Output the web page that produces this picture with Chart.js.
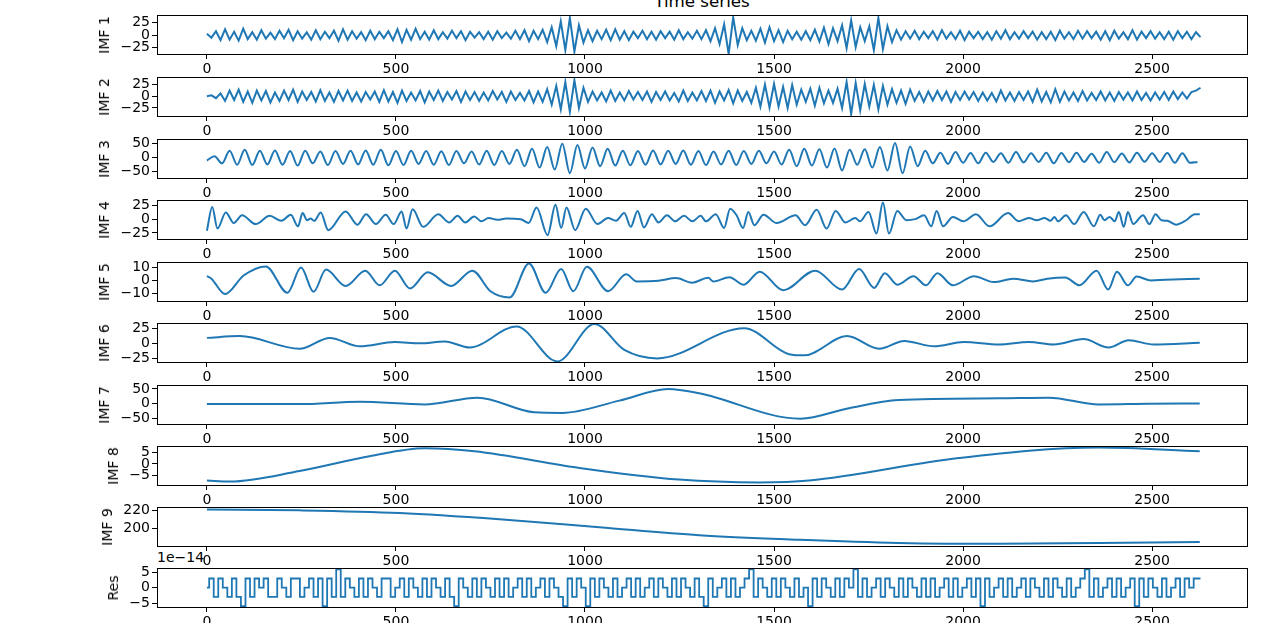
<!DOCTYPE html>
<html>
<head>
<meta charset="utf-8">
<script src="https://cdn.jsdelivr.net/npm/chart.js@4"></script>
<style>
  body { margin: 0; background: #fff; width: 1280px; height: 623px; overflow: hidden; position: relative; font-family: "DejaVu Sans", sans-serif; }
  canvas { position: absolute; left: 0; }
  .ylab { position: absolute; font-size: 14px; transform: translate(-50%, -50%) rotate(-90deg); white-space: nowrap; }
</style>
</head>
<body>
<div style="position:absolute;left:702px;top:-9px;transform:translateX(-50%);font-size:16.7px;">Time series</div>
<div style="position:absolute;left:157px;top:549px;font-size:14px;">1e−14</div>
<script>
const xTicks = [0, 500, 1000, 1500, 2000, 2500];

// noisy components, sampled every 12 / 20 samples
const imf1Step = 12;
const imf1 = [
  3,-5,8,-10,12,-9,7,-11,13,-8, 6,-9,10,-7,5,-8,9,-6,11,-10,
  8,-7,6,-9,10,-8,7,-6,9,-11, 12,-9,8,-7,6,-10,9,-8,7,-6,
  8,-10,12,-14,11,-9,13,-8,7,-9, 10,-8,6,-7,9,-6,8,-10,7,-5,
  6,-8,7,-9,8,-6,5,-7,9,-8, 10,-12,9,-8,11,-14,16,-22,28,-30,
  35,-33,20,-15,10,-12,9,-8,11,-10, 12,-9,8,-10,7,-6,9,-8,7,-9,
  8,-6,7,-9,10,-8,6,-7,9,-8, 10,-12,14,-18,22,-38,36,-20,14,-10,
  9,-11,13,-15,16,-12,10,-14,9,-8, 7,-9,8,-10,11,-13,15,-18,14,-12,
  20,-26,30,-24,16,-12,18,-30,35,-28, 18,-14,10,-9,8,-7,9,-8,7,-6,
  8,-9,10,-7,6,-8,9,-10,7,-6, 7,-8,6,-9,8,-7,10,-8,6,-7,
  8,-6,7,-9,6,-8,7,-10,9,-7, 6,-8,9,-7,8,-6,7,-9,8,-10,
  9,-7,6,-8,10,-9,7,-6,8,-7, 6,-8,7,-9,8,-6,7,-8,6,-4
];
const imf2Step = 12;
const imf2 = [
  0,2,-4,6,-10,12,-8,14,-12,10, -14,12,-9,11,-13,8,-10,12,-8,14,
  -12,10,-8,9,-11,13,-10,8,-12,11, -9,12,-10,8,-11,9,-7,10,-12,13,
  -11,9,-14,12,-10,8,-9,11,-13,10, -8,12,-10,9,-7,11,-12,10,-8,9,
  -10,8,-9,11,-7,9,-12,10,-8,7, -9,11,-13,10,-12,15,-18,22,-28,30,
  -33,34,-25,18,-12,10,-9,8,-11,12, -10,8,-9,11,-7,9,-8,10,-12,9,
  -8,10,-9,7,-11,12,-10,8,-9,11, -10,12,-14,10,-9,13,-15,12,-10,9,
  -14,18,-22,25,-24,26,-22,20,-25,24, -18,14,-12,16,-20,18,-15,12,-14,16,
  -25,30,-38,28,-30,26,-22,24,-28,22, -18,15,-14,12,-16,14,-10,9,-12,10,
  -9,11,-8,10,-12,9,-8,10,-7,9, -10,8,-9,7,-11,12,-9,8,-10,9,
  -8,10,-12,14,-11,9,-13,15,-12,10, -9,8,-10,11,-9,7,-8,10,-9,8,
  -10,9,-7,8,-9,10,-8,7,-9,8, -7,9,-8,10,-6,8,-5,9,12,18
];
const imf3Step = 20;
const imf3 = [
  -10,5,-20,25,-25,28,-26,25,-24,26, -25,24,-28,25,-20,22,-26,24,-22,25,
  -24,26,-25,28,-27,24,-26,25,-22,24, -25,23,-26,24,-20,22,-24,25,-26,24,
  -22,28,-30,32,-35,38,-42,50,-55,45, -38,36,-30,32,-28,25,-27,24,-25,26,
  -24,25,-22,26,-25,24,-26,22,-24,25, -26,24,-22,25,-20,22,-24,28,-30,32,
  -28,30,-35,33,-45,28,-25,30,-35,38, -45,52,-55,40,-30,25,-20,18,-22,20,
  -18,17,-20,18,-15,16,-18,20,-17,16, -15,18,-20,17,-16,18,-15,14,-18,20,
  -16,15,-17,18,-14,16,-15,17,-18,16, -18,-15
];
// smooth components: [x, y] turning points
const imf4 = [
  [0,-21],[14,22],[28,-17],[50,12],[71,-7],[93,7],[129,-9],[166,6],[197,-3],[222,8],[241,-13],[253,11],
  [265,-2],[274,1],[284,-3],[301,12],[321,-20],[367,14],[398,-10],[421,9],[447,-9],[473,8],[494,-9],
  [515,14],[528,-17],[544,18],[572,-14],[612,9],[641,-6],[663,6],[683,-6],[707,5],[726,-4],[745,2],
  [768,-1],[792,1],[830,0],[851,-7],[872,21],[901,-29],[922,26],[937,-16],[951,21],[974,-20],[1002,19],
  [1033,-9],[1061,2],[1082,-3],[1104,11],[1121,-14],[1139,15],[1156,-15],[1177,9],[1194,-6],[1217,7],
  [1239,-4],[1262,6],[1284,-4],[1306,6],[1320,-4],[1346,9],[1368,-16],[1384,19],[1401,7],[1418,-16],
  [1432,13],[1448,-11],[1472,8],[1507,-7],[1557,7],[1582,-11],[1613,17],[1639,-17],[1663,15],[1689,-6],
  [1715,2],[1727,-4],[1750,13],[1771,-26],[1788,30],[1804,-26],[1826,15],[1850,-2],[1873,0],[1897,7],
  [1916,-13],[1930,15],[1947,-13],[1973,4],[2001,-4],[2034,9],[2070,-13],[2119,11],[2147,-4],[2174,2],
  [2195,-2],[2216,2],[2231,-3],[2242,4],[2251,-4],[2272,7],[2294,-9],[2319,13],[2346,-13],[2363,8],
  [2374,-2],[2388,4],[2401,-4],[2412,13],[2425,-14],[2436,13],[2450,-9],[2476,7],[2493,-9],[2509,9],
  [2525,-2],[2540,-3],[2563,-10],[2590,-2],[2613,9],[2626,9]
];
const imf5 = [
  [0,3.3],[12,1.3],[48,-10.6],[97,3.8],[156,10.9],[213,-9.6],[249,10.1],[282,-8.9],[315,8.4],[367,-4.3],
  [419,7.6],[457,-3.8],[497,7.6],[537,-6.3],[584,6.3],[646,-4.3],[702,7.6],[750,-8.4],[801,-13.2],
  [852,13.2],[896,-9.6],[937,8.9],[969,-8.4],[1005,10.6],[1061,-8.4],[1109,4.8],[1137,-0.8],[1194,-0.3],
  [1241,1.8],[1283,-1.8],[1326,2],[1339,-0.8],[1382,2.5],[1420,-3.3],[1462,6.8],[1524,-7.6],[1609,7.6],
  [1680,-7.1],[1725,8.9],[1765,-5.8],[1793,5.6],[1826,-3.3],[1869,3.3],[1902,-3.8],[1932,5.6],[1973,-3.8],
  [2029,3.3],[2081,-1.3],[2133,1.3],[2185,-0.8],[2223,1.3],[2270,2.3],[2308,-3.8],[2353,7.6],[2384,-7.1],
  [2407,6.8],[2436,-3.8],[2459,3],[2497,0],[2535,0.5],[2626,1.3]
];
const imf6 = [
  [0,9],[87,12],[245,-9],[325,9],[404,-5],[497,2],[563,0],[629,3],[695,-7],[819,28],[927,-30],[1025,32],
  [1104,-11],[1191,-25],[1421,25],[1540,-18],[1580,-20],[1693,12],[1778,-9],[1844,4],[1923,-5],[2002,2],
  [2095,-2],[2174,2],[2240,-2],[2319,7],[2385,-7],[2438,5],[2504,-2],[2626,1]
];
const imf7 = [
  [0,-2],[245,-2],[404,6],[576,-3],[716,20],[866,-30],[940,-32],[1091,10],[1220,50],[1302,35],
  [1570,-52],[1698,-16],[1830,12],[2095,18],[2227,20],[2359,-3],[2491,-1],[2626,0]
];
const imf8 = [
  [0,-7.1],[61,-7.5],[245,-3],[430,3.3],[576,6.7],[708,5.4],[985,-1.7],[1249,-6.7],[1461,-7.9],
  [1593,-7.1],[1989,2.5],[2359,7],[2626,5.4]
];
const imf9 = [
  [0,221],[245,220],[510,217],[774,210],[1038,201],[1302,192],[1566,187],[1830,183.5],[2095,182.5],
  [2359,183.5],[2626,184.5]
];
const resStep = 12;
const res = [
  0,3,-3,3,0,-3,3,-3,-6,3, -3,3,0,3,-3,-3,3,0,-3,3, 3,-3,0,3,-3,3,-6,3,-3,6,
  -3,3,0,-3,3,-3,3,0,-3,3, 3,-3,0,3,-3,3,0,-3,3,-3, 3,0,-3,3,-3,-6,3,0,-3,3,
  -3,3,0,-3,3,-3,3,-3,0,3, -3,3,-3,0,3,-3,3,0,-3,-6, 3,-3,3,0,-6,3,-3,3,0,-3,
  3,-3,0,3,-3,3,-3,0,3,-3, 3,0,-3,3,-3,3,0,-3,3,-3, -6,3,-3,0,3,-3,3,-3,0,3,
  6,-3,3,0,-3,3,-3,3,0,-3, 3,-3,0,-6,3,-3,3,0,-3,3, -3,3,0,6,-3,3,-3,0,3,-3,
  3,0,-3,3,-3,3,0,-3,3,-3, 3,-3,0,3,-3,3,-3,0,3,-3, 3,-6,3,-3,0,3,-3,3,-3,0,
  3,-3,3,0,-3,3,-3,3,0,-3, 3,-3,0,3,6,-3,3,-3,0,3, -3,3,-3,0,3,-6,3,-3,3,0,
  -3,3,-3,0,3,-3,3,0,3,3
];

function stepped(arr, step) { return arr.map((v, i) => ({ x: i * step, y: v })); }
function pairs(arr) { return arr.map(p => ({ x: p[0], y: p[1] })); }

const panels = [
  { label: "IMF 1", lx: 104, data: stepped(imf1, imf1Step), min: -38, max: 40, ticks: [-25, 0, 25], width: 2 },
  { label: "IMF 2", lx: 104, data: stepped(imf2, imf2Step), min: -42, max: 40, ticks: [-25, 0, 25], width: 2 },
  { label: "IMF 3", lx: 104, data: stepped(imf3, imf3Step), min: -72, max: 65, ticks: [-50, 0, 50], smooth: true },
  { label: "IMF 4", lx: 104, data: pairs(imf4), min: -36, max: 34, ticks: [-25, 0, 25], smooth: true },
  { label: "IMF 5", lx: 104, data: pairs(imf5), min: -16, max: 14, ticks: [-10, 0, 10], smooth: true },
  { label: "IMF 6", lx: 104, data: pairs(imf6), min: -31, max: 33, ticks: [-25, 0, 25], smooth: true },
  { label: "IMF 7", lx: 104, data: pairs(imf7), min: -70, max: 62, ticks: [-50, 0, 50], smooth: true },
  { label: "IMF 8", lx: 113, data: pairs(imf8), min: -9, max: 7.5, ticks: [-5, 0, 5], smooth: true },
  { label: "IMF 9", lx: 107, data: pairs(imf9), min: 180, max: 223.3, ticks: [200, 220], smooth: true },
  { label: "Res", lx: 113, data: stepped(res, resStep), min: -6.3, max: 6.3, ticks: [-5, 0, 5], stepped: true, width: 1.8 }
];
const panelTops = [15, 77, 139, 200, 262, 323, 385, 446, 507, 568];
const panelH = 39;
const topGap = 10;

const fmt = v => (v < 0 ? "−" + Math.abs(v) : String(v));
const font = { family: "DejaVu Sans", size: 14 };

panels.forEach((p, k) => {
  const top = panelTops[k];
  const cv = document.createElement("canvas");
  cv.style.top = (top - topGap) + "px";
  cv.style.width = "1280px";
  cv.style.height = (panelH + topGap + 26) + "px";
  cv.width = 1280;
  cv.height = panelH + topGap + 26;
  document.body.appendChild(cv);

  const lab = document.createElement("div");
  lab.className = "ylab";
  lab.textContent = p.label;
  lab.style.left = p.lx + "px";
  lab.style.top = (top + panelH / 2) + "px";
  document.body.appendChild(lab);

  new Chart(cv, {
    type: "line",
    data: {
      datasets: [{
        data: p.data,
        borderColor: "#1f77b4",
        borderWidth: p.width || 2,
        pointRadius: 0,
        fill: false,
        stepped: p.stepped ? "middle" : false,
        cubicInterpolationMode: p.smooth ? "monotone" : "default",
        tension: 0
      }]
    },
    options: {
      responsive: false,
      devicePixelRatio: 1,
      animation: false,
      events: [],
      layout: { padding: { top: 0, right: 33, left: 0, bottom: 0 } },
      plugins: { legend: { display: false }, tooltip: { enabled: false } },
      scales: {
        x: {
          type: "linear", min: -132, max: 2751,
          afterBuildTicks: s => { s.ticks = xTicks.map(v => ({ value: v })); },
          afterFit: s => { s.height = 26; },
          grid: { drawOnChartArea: false, color: "#000", tickLength: 5 },
          border: { color: "#000", width: 1 },
          ticks: { color: "#000", font: font, padding: 2, maxRotation: 0, autoSkip: false, callback: v => fmt(v) }
        },
        y: {
          min: p.min, max: p.max,
          afterBuildTicks: s => { s.ticks = p.ticks.map(v => ({ value: v })); },
          afterFit: s => { s.width = 157; },
          grid: { drawOnChartArea: false, color: "#000", tickLength: 5 },
          border: { color: "#000", width: 1 },
          ticks: { color: "#000", font: font, padding: 2, autoSkip: false, callback: v => fmt(v) }
        }
      }
    },
    plugins: [{
      id: "frame",
      afterDraw(c) {
        const a = c.chartArea, g = c.ctx;
        g.save();
        g.strokeStyle = "#000";
        g.lineWidth = 1;
        g.strokeRect(Math.round(a.left) + 0.5, Math.round(a.top) + 0.5, Math.round(a.right - a.left), Math.round(a.bottom - a.top));
        g.restore();
      }
    }]
  });
});
</script>
</body>
</html>
